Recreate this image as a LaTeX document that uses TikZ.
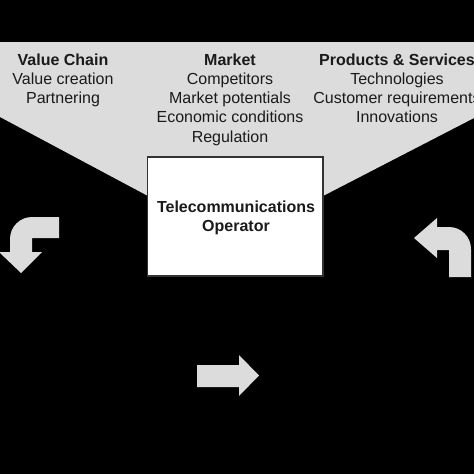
\documentclass[tikz,border=0pt]{standalone}
\usepackage{fontspec}
\setmainfont{Liberation Sans}
\definecolor{panelgray}{HTML}{DCDCDC}
\definecolor{textdark}{HTML}{1A1A1A}
\definecolor{boxline}{HTML}{333333}
\begin{document}
\begin{tikzpicture}[x=1pt,y=-1pt,
  txt/.style={inner sep=0pt,anchor=base,text=textdark,font=\fontsize{16}{19.3}\selectfont},
  head/.style={txt,font=\fontsize{16}{19.3}\selectfont\bfseries},
  graybit/.style={fill=panelgray,draw=none},
  opbox/.style={fill=white,draw=boxline,line width=1.2pt}]
\useasboundingbox (0,0) rectangle (474,474);
\clip (0,0) rectangle (474,474);
\fill[black] (0,0) rectangle (474,474);
% funnel
\fill[graybit] (0,42) -- (474,42) -- (474,118) -- (323,196) -- (148,196) -- (0,117) -- cycle;
% operator box
\draw[opbox] (147.5,157) rectangle (323,276);
\node[head] (op1) at (236,212.7) {Telecommunications};
\node[head] (op2) at (236,231.7) {Operator};
% column 1
\node[head] (c1a) at (63,65) {Value Chain};
\node[txt] (c1b) at (63,84.3) {Value creation};
\node[txt] (c1c) at (63,103.6) {Partnering};
% column 2
\node[head] (c2a) at (230,65) {Market};
\node[txt] (c2b) at (230,84.3) {Competitors};
\node[txt] (c2c) at (230,103.6) {Market potentials};
\node[txt] (c2d) at (230,122.9) {Economic conditions};
\node[txt] (c2e) at (230,142.2) {Regulation};
% column 3
\node[head] (c3a) at (397,65) {Products \& Services};
\node[txt] (c3b) at (397,84.3) {Technologies};
\node[txt] (c3c) at (397,103.6) {Customer requirements};
\node[txt] (c3d) at (397,122.9) {Innovations};
% left curved arrow
\fill[graybit] (59,217) -- (32,217) arc[start angle=-90,end angle=-180,radius=22] -- (10,252) -- (-1,252) -- (21,273) -- (42,252) -- (32,252) -- (32,238) -- (59,238) -- cycle;
% right curved arrow
\fill[graybit] (414,238) -- (437,218) -- (437,227) -- (449,227) arc[start angle=-90,end angle=0,radius=22] -- (471,277) -- (449,277) -- (449,250) -- (437,250) -- (437,258) -- cycle;
% bottom arrow
\fill[graybit] (197,365) -- (239,365) -- (239,355) -- (259,375.5) -- (239,396) -- (239,387) -- (197,387) -- cycle;
\end{tikzpicture}
\end{document}
